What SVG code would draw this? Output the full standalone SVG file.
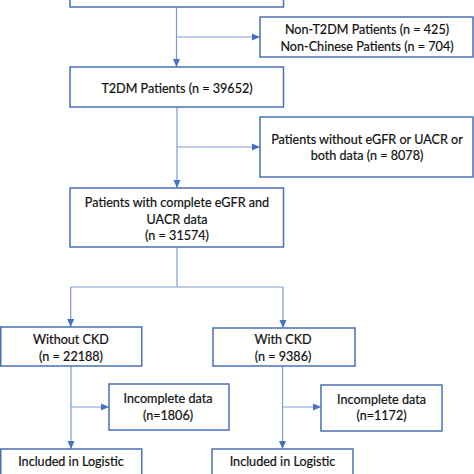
<svg xmlns="http://www.w3.org/2000/svg" width="474" height="474" viewBox="0 0 474 474">
<style>
.box{fill:#ffffff;stroke:#4a6fb5;stroke-width:1.5}
.ln{fill:none;stroke:#7f9bcb;stroke-width:1.2}
text{font-family:Lato,"Liberation Sans",sans-serif;font-size:12.6px;fill:#111111;text-anchor:middle;stroke:#111111;stroke-width:0.2}
</style>
<defs>
<marker id="ah" markerUnits="userSpaceOnUse" markerWidth="9" markerHeight="9" viewBox="0 0 9 9" refX="8.5" refY="4.5" orient="auto">
<path d="M0,0.8 L8.5,4.5 L0,8.2 Z" fill="#4472c4"/>
</marker>
</defs>
<rect width="474" height="474" fill="#ffffff"/>
<g id="connectors">
<line class="ln" x1="176.5" y1="7" x2="176.5" y2="67" marker-end="url(#ah)"/>
<line class="ln" x1="176.5" y1="37" x2="260" y2="37" marker-end="url(#ah)"/>
<line class="ln" x1="177" y1="107" x2="177" y2="188" marker-end="url(#ah)"/>
<line class="ln" x1="177" y1="147" x2="260" y2="147" marker-end="url(#ah)"/>
<polyline class="ln" points="177,247 177,287"/>
<polyline class="ln" points="70.7,287 283,287"/>
<line class="ln" x1="70.7" y1="287" x2="70.7" y2="327" marker-end="url(#ah)"/>
<line class="ln" x1="283" y1="287" x2="283" y2="328" marker-end="url(#ah)"/>
<line class="ln" x1="71" y1="366" x2="71" y2="449" marker-end="url(#ah)"/>
<line class="ln" x1="71" y1="407" x2="109" y2="407" marker-end="url(#ah)"/>
<line class="ln" x1="282.5" y1="366" x2="282.5" y2="449" marker-end="url(#ah)"/>
<line class="ln" x1="282.5" y1="407" x2="321" y2="407" marker-end="url(#ah)"/>
</g>
<g id="node-top"><rect class="box" x="70" y="-40" width="213.5" height="47"/></g>
<g id="node-excl1"><rect class="box" x="260" y="17" width="213" height="40"/>
<text x="367" y="33.5">Non-T2DM Patients (n = 425)</text>
<text x="367" y="50.5">Non-Chinese Patients (n = 704)</text></g>
<g id="node-t2dm"><rect class="box" x="70" y="67" width="213.5" height="40"/>
<text x="177" y="92.5">T2DM Patients (n = 39652)</text></g>
<g id="node-excl2"><rect class="box" x="260" y="117" width="213" height="60"/>
<text x="367" y="143.5">Patients without eGFR or UACR or</text>
<text x="367" y="159.5">both data (n = 8078)</text></g>
<g id="node-complete"><rect class="box" x="70" y="188" width="213.5" height="59"/>
<text x="177" y="206.5">Patients with complete eGFR and</text>
<text x="177" y="223.5">UACR data</text>
<text x="177" y="239.5">(n = 31574)</text></g>
<g id="node-nockd"><rect class="box" x="0.75" y="327" width="141" height="39"/>
<text x="71" y="343.5">Without CKD</text>
<text x="71" y="360.5">(n = 22188)</text></g>
<g id="node-ckd"><rect class="box" x="213" y="328" width="142" height="38"/>
<text x="283" y="344">With CKD</text>
<text x="283" y="360.5">(n = 9386)</text></g>
<g id="node-inc1"><rect class="box" x="109" y="384" width="120" height="46"/>
<text x="168" y="402.5">Incomplete data</text>
<text x="168" y="419.5">(n=1806)</text></g>
<g id="node-inc2"><rect class="box" x="321" y="385" width="121" height="46"/>
<text x="381.5" y="403.5">Incomplete data</text>
<text x="381.5" y="419.5">(n=1172)</text></g>
<g id="node-log1"><rect class="box" x="0.75" y="449" width="141" height="40"/>
<text x="71" y="465.5">Included in Logistic</text></g>
<g id="node-log2"><rect class="box" x="212" y="449" width="141" height="40"/>
<text x="282.5" y="465.5">Included in Logistic</text></g>
</svg>
